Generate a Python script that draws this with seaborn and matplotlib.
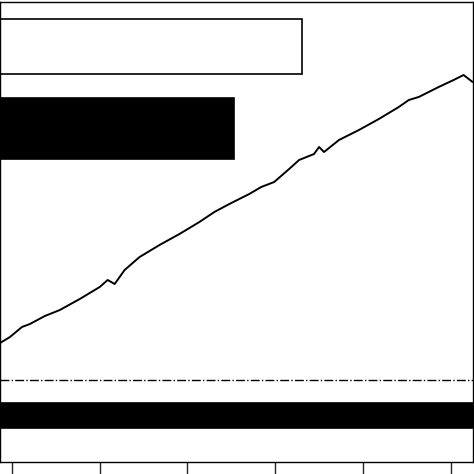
import matplotlib
matplotlib.use("Agg")
import matplotlib.pyplot as plt
import seaborn as sns
import numpy as np

sns.set_style("white")

line_x = [0, 10, 22, 30, 45, 60, 80, 100, 108, 115, 125, 140, 160, 180, 200, 215, 230, 250, 262, 275, 290, 300, 315, 320, 325, 340, 360, 380, 400, 410, 420, 440, 455, 465, 474]
line_y = [119, 125, 135, 138, 146, 152, 163, 175, 182, 178, 192, 205, 217, 228, 240, 250, 258, 268, 275, 280, 293, 302, 308, 315, 310, 322, 332, 343, 355, 362, 365, 375, 382, 387, 380]
dashdot_y = 82
bar_y = [47, 334, 416]
bar_h = [25, 61, 55]
bar_left = [0, 0, -5]
bar_w = [474, 235, 308]
bar_face = ["black", "black", "white"]
ticks = [12, 100, 188, 276, 364, 452]

fig = plt.figure(figsize=(4.74, 4.74), dpi=100)
ax = fig.add_axes([0, 12/474, 0.997, 460/474])
ax.barh(bar_y, bar_w, height=bar_h, left=bar_left, color=bar_face, edgecolor="black", linewidth=1.2)
sns.lineplot(x=line_x, y=line_y, ax=ax, color="black", linewidth=1.4)
ax.axhline(dashdot_y, color="black", linestyle="-.", linewidth=1)
ax.set_xlim(0, 474)
ax.set_ylim(0, 460)
ax.set_xticks(ticks)
ax.set_xticklabels([])
ax.set_yticks([])
ax.tick_params(axis="x", direction="out", length=10, width=1, bottom=True)
for s in ax.spines.values():
    s.set_color("black"); s.set_linewidth(1)
fig.savefig("out.png", dpi=100)
